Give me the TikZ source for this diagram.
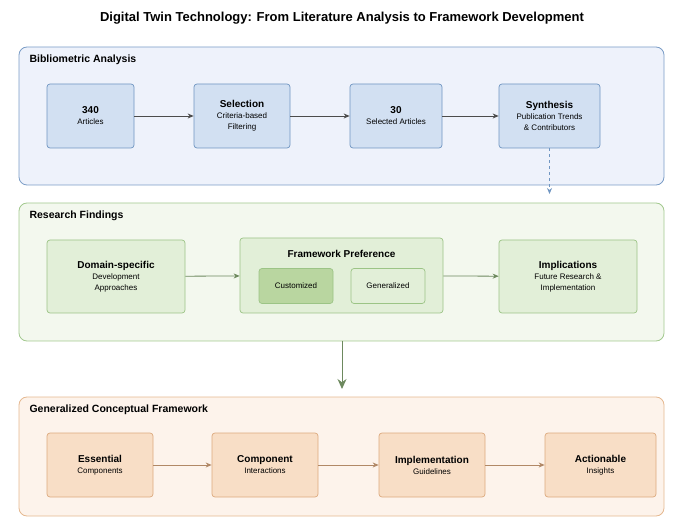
\documentclass[tikz,border=0pt]{standalone}
\usepackage{fontspec}
\setmainfont{Liberation Sans}
\usetikzlibrary{arrows.meta}
\definecolor{bpan}{HTML}{EEF2FB}\definecolor{bpanl}{HTML}{7A9CC6}
\definecolor{bbox}{HTML}{D2E0F2}\definecolor{bboxl}{HTML}{7096C2}
\definecolor{gpan}{HTML}{F3F8EE}\definecolor{gpanl}{HTML}{A3C98F}
\definecolor{gbox}{HTML}{E2EFD8}\definecolor{gboxl}{HTML}{9CC486}
\definecolor{gdark}{HTML}{B9D6A0}
\definecolor{opan}{HTML}{FDF3EB}\definecolor{opanl}{HTML}{E5B890}
\definecolor{obox}{HTML}{F8DEC6}\definecolor{oboxl}{HTML}{DDAA7F}
\begin{document}
\begin{tikzpicture}[x=1pt,y=-1pt,
 panel/.style={rounded corners=8pt,line width=0.8pt},
 ptitle/.style={anchor=west,font=\bfseries\fontsize{10.5}{12}\selectfont},
 bx/.style={rounded corners=3pt,line width=0.7pt,align=center,font=\fontsize{8}{11}\selectfont},
 arr/.style={-{Stealth[length=6pt,width=5pt]},line width=0.8pt}]
\useasboundingbox (0,0) rectangle (685,518);
\node[font=\bfseries\fontsize{13}{15}\selectfont] (title) at (342,18) {Digital Twin Technology: From Literature Analysis to Framework Development};
% panel 1
\draw[panel,fill=bpan,draw=bpanl] (19,47) rectangle (664,185);
\node[ptitle] (t1) at (26,60) {Bibliometric Analysis};
\node[bx,fill=bbox,draw=bboxl,minimum width=87pt,minimum height=64pt] (a1) at (90.5,116) {{\bfseries\fontsize{10}{12}\selectfont 340}\\Articles};
\node[bx,fill=bbox,draw=bboxl,minimum width=96pt,minimum height=64pt] (a2) at (242,116) {{\bfseries\fontsize{10}{12}\selectfont Selection}\\Criteria-based\\Filtering};
\node[bx,fill=bbox,draw=bboxl,minimum width=92pt,minimum height=64pt] (a3) at (396,116) {{\bfseries\fontsize{10}{12}\selectfont 30}\\Selected Articles};
\node[bx,fill=bbox,draw=bboxl,minimum width=101pt,minimum height=64pt] (a4) at (549.5,116) {{\bfseries\fontsize{10}{12}\selectfont Synthesis}\\Publication Trends\\\& Contributors};
\draw[arr,draw=black!70] (a1) -- (a2);
\draw[arr,draw=black!70] (a2) -- (a3);
\draw[arr,draw=black!70] (a3) -- (a4);
% panel 2
\draw[panel,fill=gpan,draw=gpanl] (19,203) rectangle (664,341);
\coordinate (dend) at (549.5,194);
\draw[arr,dashed,draw=bboxl] (a4.south) -- (dend);
\fill[black!70] (dend) ++(0,2);
\node[ptitle] (t2) at (26,216) {Research Findings};
\node[bx,fill=gbox,draw=gboxl,minimum width=138pt,minimum height=73pt] (b1) at (116,276.5) {{\bfseries\fontsize{10}{12}\selectfont Domain-specific}\\Development\\Approaches};
\node[bx,fill=gbox,draw=gboxl,minimum width=203pt,minimum height=75pt] (b2) at (341.5,275.5) {};
\node[font=\bfseries\fontsize{10}{12}\selectfont] (b2t) at (341.5,254) {Framework Preference};
\node[bx,fill=gdark,draw=gboxl,minimum width=74pt,minimum height=35pt] (c1) at (296,286) {Customized};
\node[bx,fill=gbox,draw=gboxl,minimum width=74pt,minimum height=35pt] (c2) at (388,286) {Generalized};
\node[bx,fill=gbox,draw=gboxl,minimum width=138pt,minimum height=73pt] (b3) at (568,276.5) {{\bfseries\fontsize{10}{12}\selectfont Implications}\\Future Research \&\\Implementation};
\draw[arr,draw=gboxl!70!black] (b1) -- (b2);
\draw[arr,draw=gboxl!70!black] (b2) -- (b3);
% panel 3
\coordinate (p2b) at (342,341);
\coordinate (p3t) at (342,389);
\draw[panel,fill=opan,draw=opanl] (19,397) rectangle (664,516);
\draw[-{Stealth[length=10pt,width=9pt]},line width=1pt,draw=gboxl!70!black,fill=black!70] (p2b) -- (p3t);
\node[ptitle] (t3) at (26,410) {Generalized Conceptual Framework};
\node[bx,fill=obox,draw=oboxl,minimum width=106pt,minimum height=64pt] (d1) at (100,465) {{\bfseries\fontsize{10}{12}\selectfont Essential}\\Components};
\node[bx,fill=obox,draw=oboxl,minimum width=106pt,minimum height=64pt] (d2) at (265,465) {{\bfseries\fontsize{10}{12}\selectfont Component}\\Interactions};
\node[bx,fill=obox,draw=oboxl,minimum width=106pt,minimum height=64pt] (d3) at (432,465) {{\bfseries\fontsize{10}{12}\selectfont Implementation}\\Guidelines};
\node[bx,fill=obox,draw=oboxl,minimum width=111pt,minimum height=64pt] (d4) at (600.5,465) {{\bfseries\fontsize{10}{12}\selectfont Actionable}\\Insights};
\draw[arr,draw=oboxl!80!black] (d1) -- (d2);
\draw[arr,draw=oboxl!80!black] (d2) -- (d3);
\draw[arr,draw=oboxl!80!black] (d3) -- (d4);
\end{tikzpicture}
\end{document}
